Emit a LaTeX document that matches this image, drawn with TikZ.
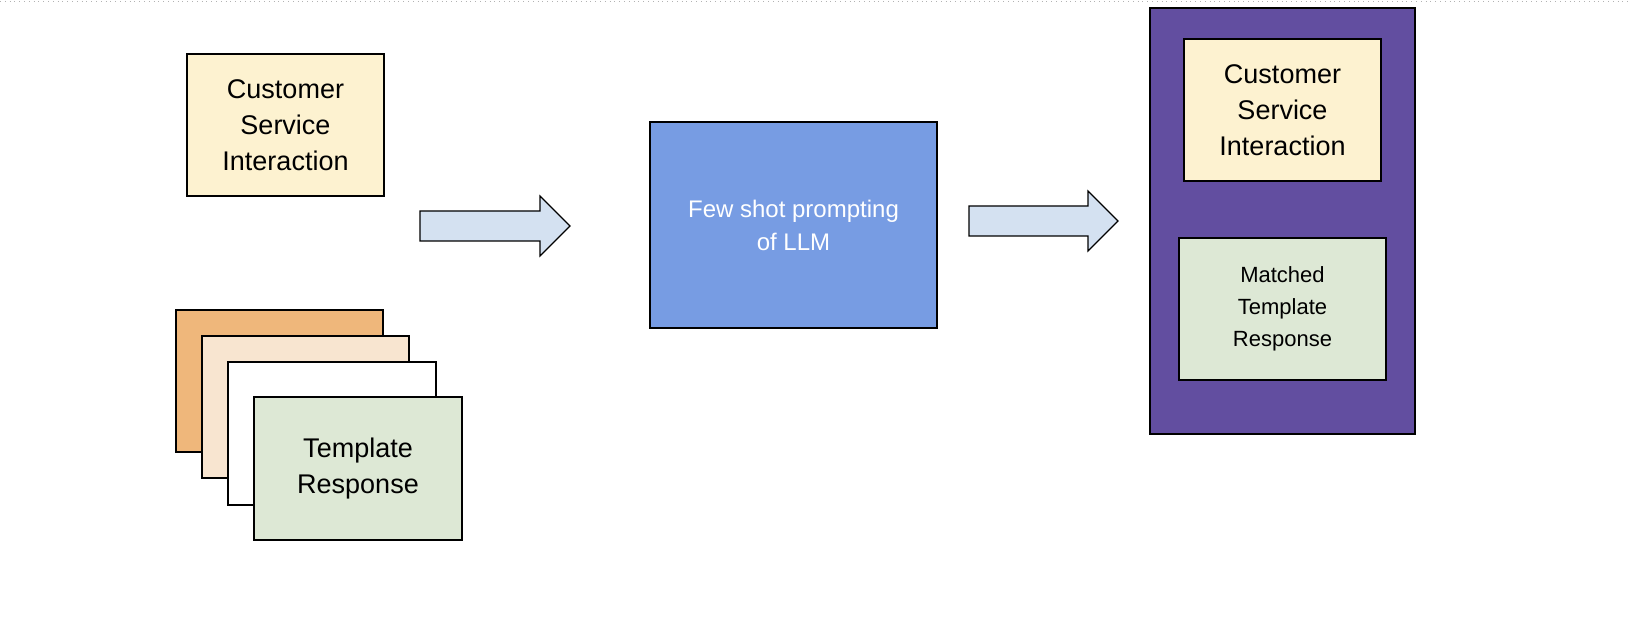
\documentclass[tikz,border=0pt]{standalone}
\usepackage{fontspec}
\setmainfont{Liberation Sans}
\begin{document}
\begin{tikzpicture}[x=0.5pt,y=-0.5pt,
  box/.style={draw=black,line width=0.6pt,align=center,inner sep=0pt},
  blockarrow/.style={draw=black,line width=0.6pt,fill=arrowfill,line join=miter}]
\definecolor{yel}{HTML}{FDF2D0}
\definecolor{grn}{HTML}{DDE8D5}
\definecolor{org}{HTML}{EFB77B}
\definecolor{peach}{HTML}{F8E5D0}
\definecolor{blu}{HTML}{779CE3}
\definecolor{purp}{HTML}{624EA0}
\definecolor{arrowfill}{HTML}{D4E1F1}
\useasboundingbox (0,0) rectangle (1630,624);
\draw[gray!60,dotted] (0,1) -- (1630,1);
% left input
\node[box,fill=yel,minimum width=98.5pt,minimum height=71pt,font=\fontsize{13.5}{18}\selectfont] (csi) at (285.5,125) {Customer\\Service\\Interaction};
% stack
\node[box,fill=org,minimum width=103.5pt,minimum height=71pt] (s1) at (279.5,381) {};
\node[box,fill=peach,minimum width=103.5pt,minimum height=71pt] (s2) at (305.5,407) {};
\node[box,fill=white,minimum width=104pt,minimum height=71.5pt] (s3) at (332,433.5) {};
\node[box,fill=grn,minimum width=104pt,minimum height=71.5pt,font=\fontsize{13.5}{18}\selectfont] (tr) at (358,468.5) {Template\\Response};
% arrow 1
\draw[blockarrow] (420,211) -- (540,211) -- (540,196) -- (570,226) -- (540,256) -- (540,241) -- (420,241) -- cycle;
% LLM
\node[box,fill=blu,text=white,minimum width=143.5pt,minimum height=103pt,font=\fontsize{12}{16.5}\selectfont] (llm) at (793.5,225) {Few shot prompting\\of LLM};
% arrow 2
\draw[blockarrow] (969,206) -- (1088,206) -- (1088,191) -- (1118,221) -- (1088,251) -- (1088,236) -- (969,236) -- cycle;
% output
\node[box,fill=purp,minimum width=132.5pt,minimum height=213pt] (out) at (1282.5,221) {};
\node[box,fill=yel,minimum width=98.5pt,minimum height=71pt,font=\fontsize{13.5}{18}\selectfont] (csi2) at (1282.5,110) {Customer\\Service\\Interaction};
\node[box,fill=grn,minimum width=103.5pt,minimum height=71pt,font=\fontsize{11}{16}\selectfont] (mtr) at (1282.5,309) {Matched\\Template\\Response};
\end{tikzpicture}
\end{document}
